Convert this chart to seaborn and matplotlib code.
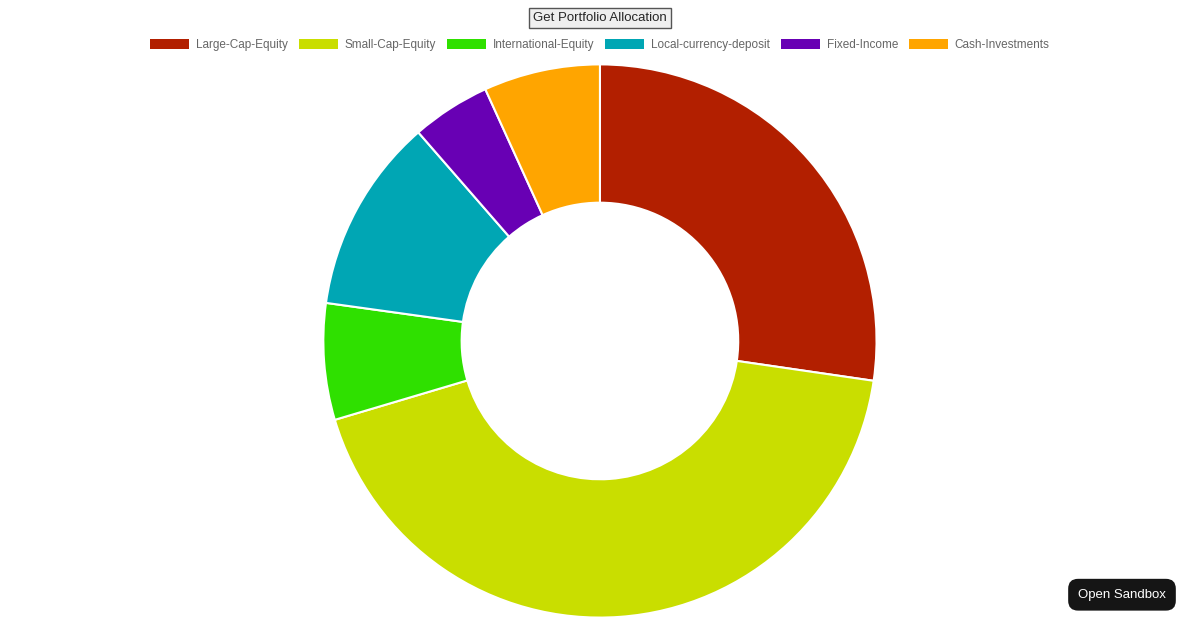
import matplotlib
matplotlib.use("Agg")
import matplotlib.pyplot as plt
import seaborn as sns
from matplotlib.patches import Patch

sns.set_theme(style="white")
plt.rcParams['font.family'] = ['Liberation Sans', 'DejaVu Sans']

labels = ["Large-Cap-Equity", "Small-Cap-Equity", "International-Equity",
          "Local-currency-deposit", "Fixed-Income", "Cash-Investments"]
values = [27.3, 43.1, 6.8, 11.4, 4.6, 6.8]
colors = ["#b21f00", "#c9de00", "#2fe000", "#00a6b4", "#6800b4", "#ffa500"]

fig = plt.figure(figsize=(12, 6.3), dpi=100)
ax = fig.add_axes([0.5 - 0.2317, 0.0175, 0.4633, 0.8825])
ax.pie(values, colors=colors, startangle=90, counterclock=False, frame=False,
       wedgeprops=dict(width=0.5, edgecolor="white", linewidth=1.5))
ax.set_xlim(-1.005, 1.005)
ax.set_ylim(-1.005, 1.005)
ax.set_aspect("equal")
ax.axis("off")

handles = [Patch(facecolor=c, edgecolor="none") for c in colors]
fig.legend(handles, labels, loc="center", bbox_to_anchor=(0.5, 0.928), ncol=6,
           frameon=False, fontsize=8.5, handlelength=3.3, handleheight=0.9,
           columnspacing=0.9, handletextpad=0.6, labelcolor="#666666")

fig.text(0.5, 0.971, "Get Portfolio Allocation", ha="center", va="center", fontsize=9.5,
         bbox=dict(boxstyle="square,pad=0.3", facecolor="#efefef", edgecolor="#555555"))
fig.text(0.935, 0.056, "Open Sandbox", ha="center", va="center", fontsize=9.5, color="white",
         bbox=dict(boxstyle="round,pad=0.75", facecolor="#151515", edgecolor="none"))

fig.savefig("out.png", dpi=100)
